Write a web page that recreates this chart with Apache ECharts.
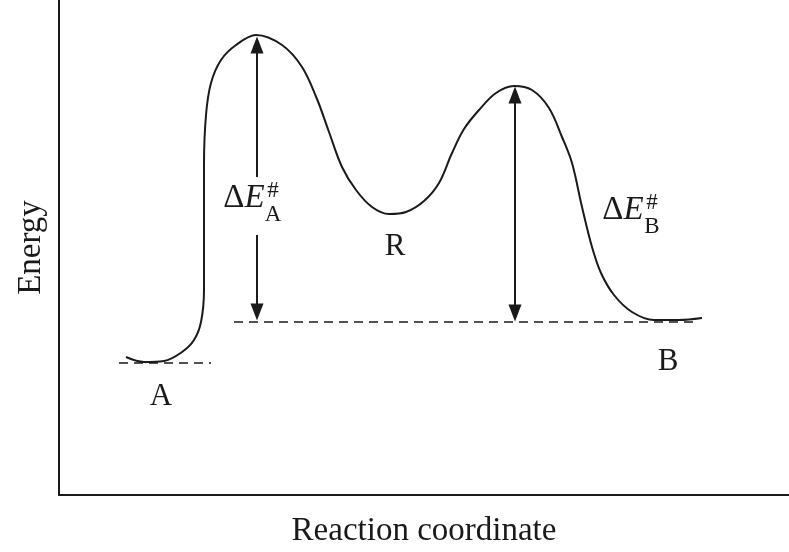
<!DOCTYPE html>
<html>
<head>
<meta charset="utf-8">
<script src="https://cdn.jsdelivr.net/npm/echarts@6/dist/echarts.min.js"></script>
<style>
  html, body { margin: 0; padding: 0; background: #fff; }
  #chart { width: 789px; height: 552px; }
</style>
</head>
<body>
<div id="chart"></div>
<script>
// energy profile (x: reaction coordinate, y: energy)
const pathX = [67, 85, 105, 123, 135, 142, 145, 145, 145, 147, 152, 162, 177, 197, 223, 243, 258, 270, 283, 297, 313, 330, 347, 365, 380, 393, 405, 420, 437, 455, 473, 490, 503, 513, 523, 533, 542, 555, 573, 595, 620, 643]
const pathY = [138, 133, 134, 143, 155, 173, 205, 265, 330, 380, 412, 435, 450, 460, 450, 428, 396, 363, 328, 305, 288, 281, 283, 294, 312, 342, 366, 385, 402, 409, 405, 387, 358, 332, 288, 248, 222, 200, 183, 175, 175, 177]

// reference levels (dashed)
const levelA = { y: 132, from: 60, to: 152 }
const levelB = { y: 173, from: 175, to: 635 }

// barrier arrows (tips)
const arrowA = { x: 198, bottom: 175, top: 458, gapLow: 260, gapHigh: 318 }
const arrowB = { x: 456, bottom: 174, top: 408 }

// plain labels
const pointNames = ['A', 'R', 'B']
const pointPos = [[102, 98], [336, 248], [609, 133]]

const FONT = '"Liberation Serif", "DejaVu Serif", serif'
const INK = '#1a1a1a'
const ARROW = [13, 17]
const HALF = 8 // triangle is centred on the line end, pull it in so the tip lands on it

const chart = echarts.init(document.getElementById('chart'))

function deltaLabel(x, y, sub) {
  return [
    { value: [x, y], kind: 'delta' },
    { value: [x + 29, y + 7], kind: 'sup', text: '#' },
    { value: [x + 29, y - 17], kind: 'sub', text: sub },
  ]
}

const labelData = pointNames.map((n, i) => ({ value: pointPos[i], kind: 'plain', text: n }))
  .concat(deltaLabel(185, 297, 'A'))
  .concat(deltaLabel(564, 285, 'B'))

const option = {
  backgroundColor: '#fff',
  animation: false,
  grid: { left: 59, right: 0, top: 0, bottom: 57, outerBoundsMode: 'none', containLabel: false },
  xAxis: {
    type: 'value', min: 0, max: 730,
    name: 'Reaction coordinate', nameLocation: 'middle', nameGap: 20,
    nameTextStyle: { fontFamily: FONT, fontSize: 33, color: INK },
    axisLine: { show: true, lineStyle: { color: INK, width: 2 } },
    axisTick: { show: false }, axisLabel: { show: false }, splitLine: { show: false },
  },
  yAxis: {
    type: 'value', min: 0, max: 495,
    name: 'Energy', nameLocation: 'middle', nameGap: 11,
    nameTextStyle: { fontFamily: FONT, fontSize: 33, color: INK },
    axisLine: { show: true, lineStyle: { color: INK, width: 2 } },
    axisTick: { show: false }, axisLabel: { show: false }, splitLine: { show: false },
  },
  series: [
    {
      type: 'line',
      data: pathX.map((x, i) => [x, pathY[i]]),
      smooth: 0.35,
      showSymbol: false,
      lineStyle: { color: INK, width: 2 },
      markLine: {
        silent: true,
        animation: false,
        label: { show: false },
        lineStyle: { color: INK, width: 2, type: 'solid' },
        symbolSize: ARROW,
        data: [
          // dashed levels
          [{ coord: [levelA.from, levelA.y], symbol: 'none', lineStyle: { type: [9, 6], width: 1.6 } },
           { coord: [levelA.to, levelA.y], symbol: 'none' }],
          [{ coord: [levelB.from, levelB.y], symbol: 'none', lineStyle: { type: [9, 6], width: 1.6 } },
           { coord: [levelB.to, levelB.y], symbol: 'none' }],
          // arrow A (split by the label)
          [{ coord: [arrowA.x, arrowA.gapHigh], symbol: 'none' },
           { coord: [arrowA.x, arrowA.top - HALF], symbol: 'triangle' }],
          [{ coord: [arrowA.x, arrowA.gapLow], symbol: 'none' },
           { coord: [arrowA.x, arrowA.bottom + HALF], symbol: 'triangle' }],
          // arrow B
          [{ coord: [arrowB.x, arrowB.bottom + HALF], symbol: 'triangle' },
           { coord: [arrowB.x, arrowB.top - HALF], symbol: 'triangle' }],
        ],
      },
    },
    {
      type: 'scatter',
      symbolSize: 0,
      silent: true,
      itemStyle: { color: INK, opacity: 1 },
      data: labelData,
      label: {
        show: true,
        position: 'inside',
        color: INK,
        textBorderWidth: 0,
        fontFamily: FONT,
        formatter: (p) => {
          const d = p.data
          if (d.kind === 'delta') return '{d|Δ}{e|E}'
          if (d.kind === 'plain') return '{n|' + d.text + '}'
          return '{s|' + d.text + '}'
        },
        rich: {
          d: { fontFamily: FONT, fontSize: 33, color: INK, textBorderWidth: 0 },
          e: { fontFamily: FONT, fontSize: 33, fontStyle: 'italic', color: INK, textBorderWidth: 0 },
          n: { fontFamily: FONT, fontSize: 31, color: INK, textBorderWidth: 0 },
          s: { fontFamily: FONT, fontSize: 23, color: INK, textBorderWidth: 0 },
        },
      },
    },
  ],
}

chart.setOption(option)
</script>
</body>
</html>
